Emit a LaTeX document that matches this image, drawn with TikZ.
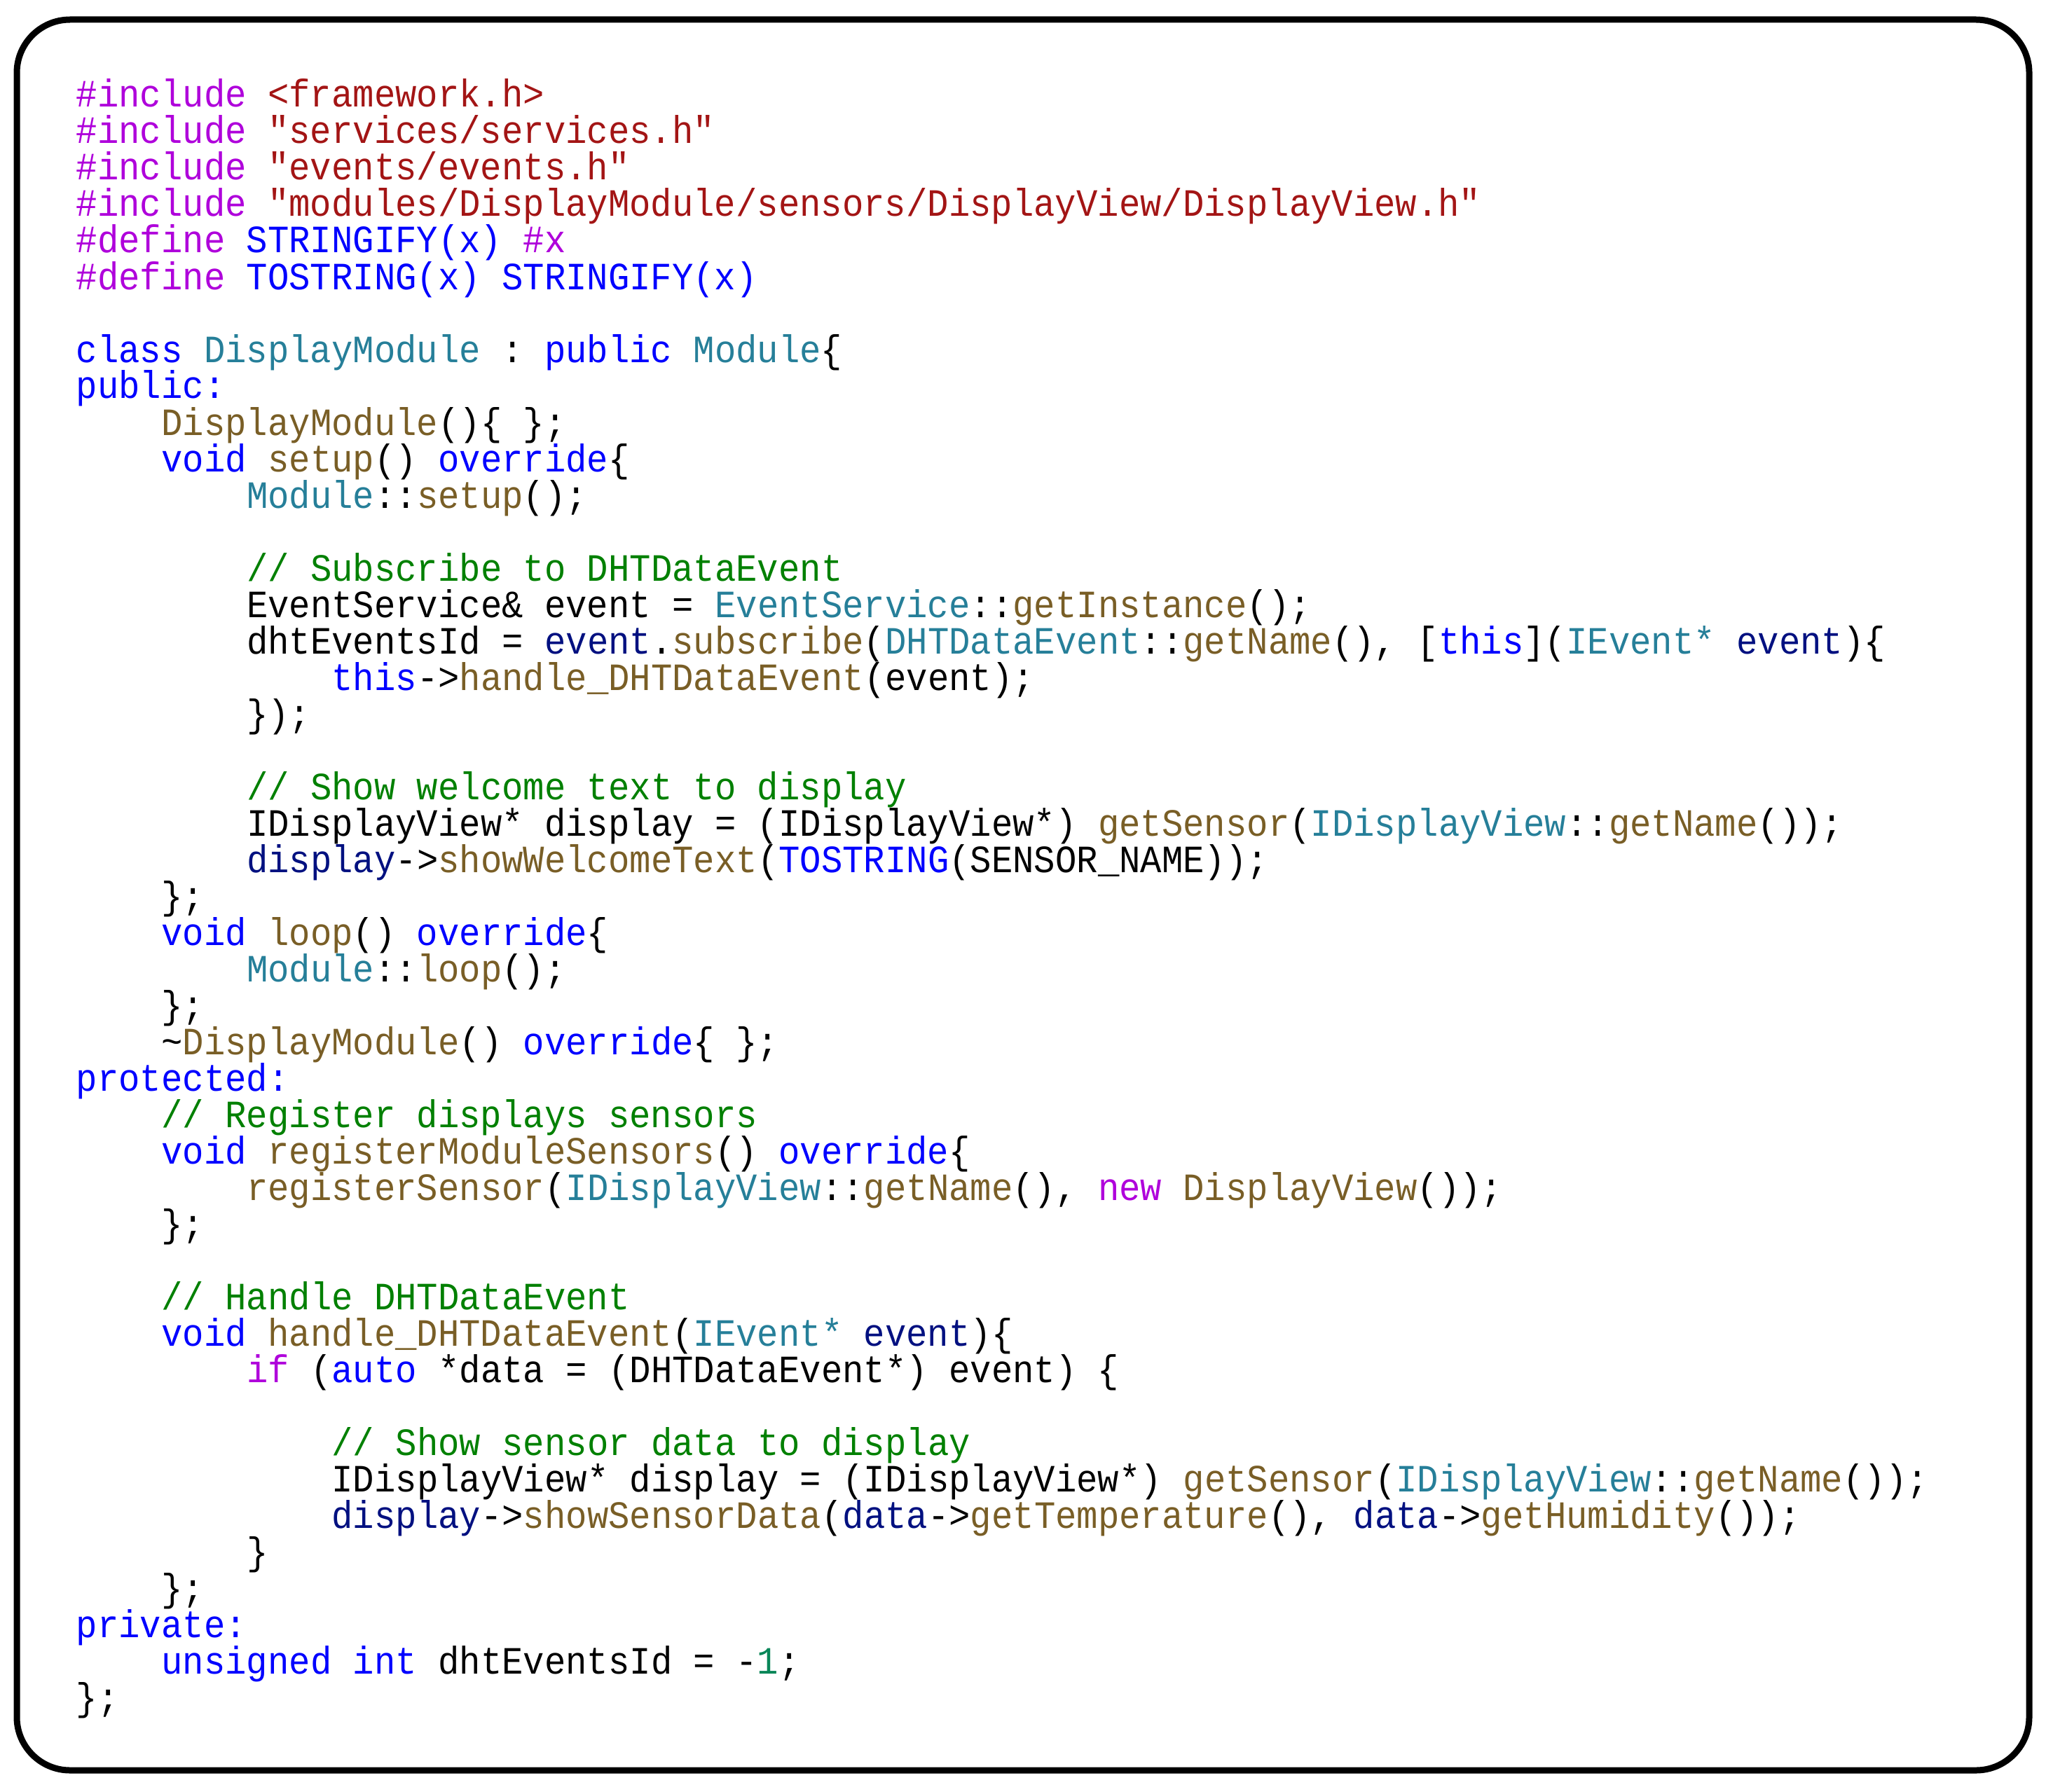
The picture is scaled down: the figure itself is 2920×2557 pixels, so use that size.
\documentclass[tikz,border=0pt]{standalone}
\usepackage{fontspec}
\setmonofont{Liberation Mono}[FakeStretch=0.917]
\definecolor{ckw}{HTML}{0000FF}
\definecolor{cty}{HTML}{267F99}
\definecolor{cfn}{HTML}{795E26}
\definecolor{cst}{HTML}{A31515}
\definecolor{cpr}{HTML}{AF00DB}
\definecolor{ccm}{HTML}{008000}
\definecolor{cvr}{HTML}{001080}
\definecolor{cnm}{HTML}{098658}
\newcommand{\ck}[1]{\textcolor{ckw}{#1}}
\newcommand{\cty}[1]{\textcolor{cty}{#1}}
\newcommand{\cfn}[1]{\textcolor{cfn}{#1}}
\newcommand{\cstr}[1]{\textcolor{cst}{#1}}
\newcommand{\cpp}[1]{\textcolor{cpr}{#1}}
\newcommand{\ccm}[1]{\textcolor{ccm}{#1}}
\newcommand{\cvr}[1]{\textcolor{cvr}{#1}}
\newcommand{\cnm}[1]{\textcolor{cnm}{#1}}
\begin{document}
\begin{tikzpicture}[x=0.25pt,y=-0.25pt,
  code/.style={anchor=base west,inner sep=0pt,font=\ttfamily\fontsize{13.8}{13}\selectfont}]
\useasboundingbox (0,0) rectangle (2920,2557);
\draw[line width=2.25pt,rounded corners=19pt] (24,28) rectangle (2896,2527);
\newcommand{\LL}[3]{\node[code] (l#1) at ({108+30.4*#2},{153+52*#1}) {#3};}
\LL{0}{0}{\cpp{\#include} \cstr{<framework.h>}}
\LL{1}{0}{\cpp{\#include} \cstr{"services/services.h"}}
\LL{2}{0}{\cpp{\#include} \cstr{"events/events.h"}}
\LL{3}{0}{\cpp{\#include} \cstr{"modules/DisplayModule/sensors/DisplayView/DisplayView.h"}}
\LL{4}{0}{\cpp{\#define} \ck{STRINGIFY(x)} \cpp{\#x}}
\LL{5}{0}{\cpp{\#define} \ck{TOSTRING(x) STRINGIFY(x)}}
\LL{7}{0}{\ck{class} \cty{DisplayModule} : \ck{public} \cty{Module}\{}
\LL{8}{0}{\ck{public:}}
\LL{9}{4}{\cfn{DisplayModule}()\{ \};}
\LL{10}{4}{\ck{void} \cfn{setup}() \ck{override}\{}
\LL{11}{8}{\cty{Module}::\cfn{setup}();}
\LL{13}{8}{\ccm{// Subscribe to DHTDataEvent}}
\LL{14}{8}{EventService\& event = \cty{EventService}::\cfn{getInstance}();}
\LL{15}{8}{dhtEventsId = \cvr{event}.\cfn{subscribe}(\cty{DHTDataEvent}::\cfn{getName}(), [\ck{this}](\cty{IEvent*} \cvr{event})\{}
\LL{16}{12}{\ck{this}->\cfn{handle\_DHTDataEvent}(event);}
\LL{17}{8}{\});}
\LL{19}{8}{\ccm{// Show welcome text to display}}
\LL{20}{8}{IDisplayView* display = (IDisplayView*) \cfn{getSensor}(\cty{IDisplayView}::\cfn{getName}());}
\LL{21}{8}{\cvr{display}->\cfn{showWelcomeText}(\ck{TOSTRING}(SENSOR\_NAME));}
\LL{22}{4}{\};}
\LL{23}{4}{\ck{void} \cfn{loop}() \ck{override}\{}
\LL{24}{8}{\cty{Module}::\cfn{loop}();}
\LL{25}{4}{\};}
\LL{26}{4}{\textasciitilde\cfn{DisplayModule}() \ck{override}\{ \};}
\LL{27}{0}{\ck{protected:}}
\LL{28}{4}{\ccm{// Register displays sensors}}
\LL{29}{4}{\ck{void} \cfn{registerModuleSensors}() \ck{override}\{}
\LL{30}{8}{\cfn{registerSensor}(\cty{IDisplayView}::\cfn{getName}(), \cpp{new} \cfn{DisplayView}());}
\LL{31}{4}{\};}
\LL{33}{4}{\ccm{// Handle DHTDataEvent}}
\LL{34}{4}{\ck{void} \cfn{handle\_DHTDataEvent}(\cty{IEvent*} \cvr{event})\{}
\LL{35}{8}{\cpp{if} (\ck{auto} *data = (DHTDataEvent*) event) \{}
\LL{37}{12}{\ccm{// Show sensor data to display}}
\LL{38}{12}{IDisplayView* display = (IDisplayView*) \cfn{getSensor}(\cty{IDisplayView}::\cfn{getName}());}
\LL{39}{12}{\cvr{display}->\cfn{showSensorData}(\cvr{data}->\cfn{getTemperature}(), \cvr{data}->\cfn{getHumidity}());}
\LL{40}{8}{\}}
\LL{41}{4}{\};}
\LL{42}{0}{\ck{private:}}
\LL{43}{4}{\ck{unsigned} \ck{int} dhtEventsId = -\cnm{1};}
\LL{44}{0}{\};}
\end{tikzpicture}
\end{document}
